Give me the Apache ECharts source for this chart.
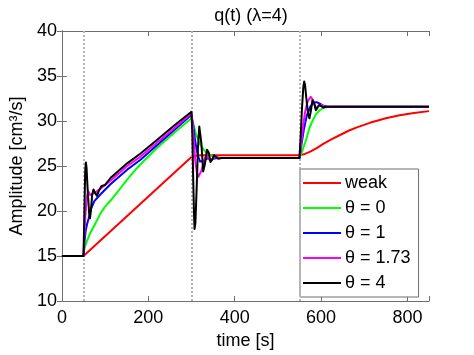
<!DOCTYPE html>
<html>
<head>
<meta charset="utf-8">
<script src="https://cdn.jsdelivr.net/npm/echarts@6/dist/echarts.min.js"></script>
<style>html,body{margin:0;padding:0;background:#fff}#c{width:474px;height:355px}</style>
</head>
<body>
<div id="c"></div>
<script>
// ---- data (time [s], amplitude [cm^3/s]) ----
const seriesNames = ['weak', 'θ = 0', 'θ = 1', 'θ = 1.73', 'θ = 4'];
const seriesColors = ['#ff0000', '#00ff00', '#0000ff', '#ff00ff', '#000000'];
const switchTimes = [50, 300, 550];
const xTicks = [0, 200, 400, 600, 800];
const yTicks = [10, 15, 20, 25, 30, 35, 40];

const weak = [[0,15],[50,15],[300,26.0],[310,26.15],[320,26.2],[550,26.2],
  [560,26.3],[575,26.6],[590,27.0],[606,27.5],[625,28.0],[644,28.45],[665,28.95],[683,29.3],[713,29.8],[750,30.3],[782,30.65],[815,30.9],[850,31.1]];
const theta0 = [[0,15],[50,15],[51,15.4],[52,15.8],[55,16.3],[59,16.8],[65,17.5],[75,18.4],[90,19.8],[100,20.5],[113,21.2],[130,22.2],[151,23.5],[165,24.3],[182,25.2],[220,27.0],[260,28.7],[300,30.3],
  [305,29.6],[310,28.6],[318,27.6],[327,26.9],[336,26.4],[350,26.05],[370,25.9],[550,25.9],
  [556,26.6],[566,28.0],[573,29.2],[581,30.1],[589,30.8],[597,31.2],[605,31.45],[615,31.55],[630,31.6],[850,31.6]];
const theta1 = [[0,15],[50,15],[52,16.5],[55,17.8],[58,18.5],[62,19.2],[67,20.2],[75,21.1],[90,21.9],[113,23.0],[151,24.6],[182,25.7],[220,27.3],[260,29.0],[300,30.7],
  [304,29.5],[308,28.0],[312,26.8],[316,26.0],[320,25.5],[324,25.3],[330,25.6],[336,25.9],[342,25.7],[350,25.8],[360,25.9],[550,25.9],
  [555,27.5],[560,29.0],[567,30.6],[575,31.6],[582,32.0],[590,32.1],[598,31.9],[605,31.7],[615,31.6],[850,31.6]];
const theta173 = [[0,15],[50,15],[52,17.5],[55,20.0],[58,21.6],[61,22.2],[65,21.8],[70,21.9],[75,22.0],[90,22.5],[113,23.4],[151,25.0],[182,26.05],[220,27.6],[260,29.2],[300,30.85],
  [303,29.5],[306,27.3],[309,25.5],[312,24.4],[316,23.8],[320,23.9],[324,24.6],[329,25.6],[334,26.2],[338,26.1],[342,25.7],[348,25.8],[355,26.0],[365,25.9],[550,25.9],
  [554,27.5],[558,29.3],[563,31.0],[569,32.2],[576,32.7],[582,32.3],[588,31.4],[594,31.7],[600,31.8],[608,31.6],[850,31.6]];
const theta4 = [[0,15],[50,15],[52,20],[54,24.5],[55.5,25.4],[57,24.8],[60,22],[63,19.8],[65,19.2],[67,20],[70,21.8],[73,22.4],[77,22.0],[81,21.7],[86,22.3],[92,22.8],[100,22.9],[113,23.7],[151,25.3],[182,26.4],[220,27.9],[260,29.5],[300,31.03],
  [302,28.5],[304,23.5],[306,19.5],[307,18.0],[309,18.6],[312,22.5],[315,27.0],[318,29.4],[320,29.3],[323,27.5],[327,24.4],[331,25.2],[336,26.8],[340,26.5],[344,25.45],[348,25.7],[352,26.2],[356,26.0],[362,25.8],[370,25.9],[550,25.9],
  [553,28.5],[556,31.5],[559,33.8],[561,34.4],[563,34.0],[566,32.5],[570,30.8],[573,30.3],[576,31.0],[580,32.3],[584,32.0],[588,31.2],[592,31.4],[596,31.8],[600,31.7],[605,31.5],[612,31.6],[850,31.6]];
const seriesData = [weak, theta0, theta1, theta173, theta4];

// ---- chart ----
const FONT = "'Liberation Sans', Arial, Helvetica, sans-serif";
const chart = echarts.init(document.getElementById('c'), null, {renderer: 'canvas'});
const axisColor = '#6e6e6e';
const xMin = 0, xMax = 850, yMin = 10, yMax = 40;

const series = seriesData.map((d, i) => {
  const s = {
    name: seriesNames[i], type: 'line', data: d, showSymbol: false, symbol: 'none',
    smooth: false, xAxisIndex: 0, yAxisIndex: 0,
    lineStyle: {color: seriesColors[i], width: 2, join: 'round'}, itemStyle: {color: seriesColors[i]},
    z: 3 + i, animation: false
  };
  if (i === 0) {
    s.markLine = {
      silent: true, symbol: ['none', 'none'], label: {show: false}, animation: false,
      lineStyle: {color: '#b4b4b4', type: 'dotted', width: 2},
      data: switchTimes.map(t => ({xAxis: t}))
    };
  }
  return s;
});

const baseX = {
  type: 'value', min: xMin, max: xMax, interval: 200,
  axisLine: {show: true, lineStyle: {color: axisColor, width: 1}},
  axisTick: {show: true, inside: true, length: 5, lineStyle: {color: axisColor}},
  splitLine: {show: false}
};
const baseY = {
  type: 'value', min: yMin, max: yMax, interval: 5,
  axisLine: {show: true, lineStyle: {color: axisColor, width: 1}},
  axisTick: {show: true, inside: true, length: 5, lineStyle: {color: axisColor}},
  splitLine: {show: false}
};

chart.setOption({
  animation: false,
  backgroundColor: '#ffffff',
  textStyle: {fontFamily: FONT},
  title: {
    text: 'q(t) (λ=4)', left: 246, top: 2, textAlign: 'center',
    textStyle: {fontFamily: FONT, fontSize: 18, fontWeight: 'normal', color: '#000'}
  },
  grid: {left: 61, right: 45, top: 31, bottom: 43, containLabel: false},
  xAxis: [
    Object.assign({}, baseX, {
      position: 'bottom', name: 'time [s]', nameLocation: 'middle', nameGap: 28,
      nameTextStyle: {fontFamily: FONT, fontSize: 18, color: '#000'},
      axisLabel: {show: true, margin: 8, fontFamily: FONT, fontSize: 18, color: '#000',
        formatter: v => xTicks.includes(v) ? String(v) : ''}
    }),
    Object.assign({}, baseX, {position: 'top', axisLabel: {show: false}})
  ],
  yAxis: [
    Object.assign({}, baseY, {
      position: 'left', name: 'Amplitude [cm³/s]', nameLocation: 'middle', nameGap: 28, nameRotate: 90,
      nameTextStyle: {fontFamily: FONT, fontSize: 18, color: '#000'},
      axisLabel: {show: true, margin: 5, fontFamily: FONT, fontSize: 18, color: '#000',
        formatter: v => yTicks.includes(v) ? String(v) : ''}
    }),
    Object.assign({}, baseY, {position: 'right', axisLabel: {show: false}})
  ],
  legend: {
    orient: 'vertical', left: 300, top: 169,
    padding: [5, 8, 5, 3], itemGap: 7,
    itemWidth: 38, itemHeight: 2, icon: 'rect',
    backgroundColor: '#ffffff', borderColor: '#6e6e6e', borderWidth: 1, borderRadius: 0,
    textStyle: {fontFamily: FONT, fontSize: 18, color: '#000', lineHeight: 18, padding: [0, 0, 0, -1]},
    data: seriesNames.map((n, i) => ({name: n, itemStyle: {color: seriesColors[i]}}))
  },
  series: series
});
</script>
</body>
</html>
